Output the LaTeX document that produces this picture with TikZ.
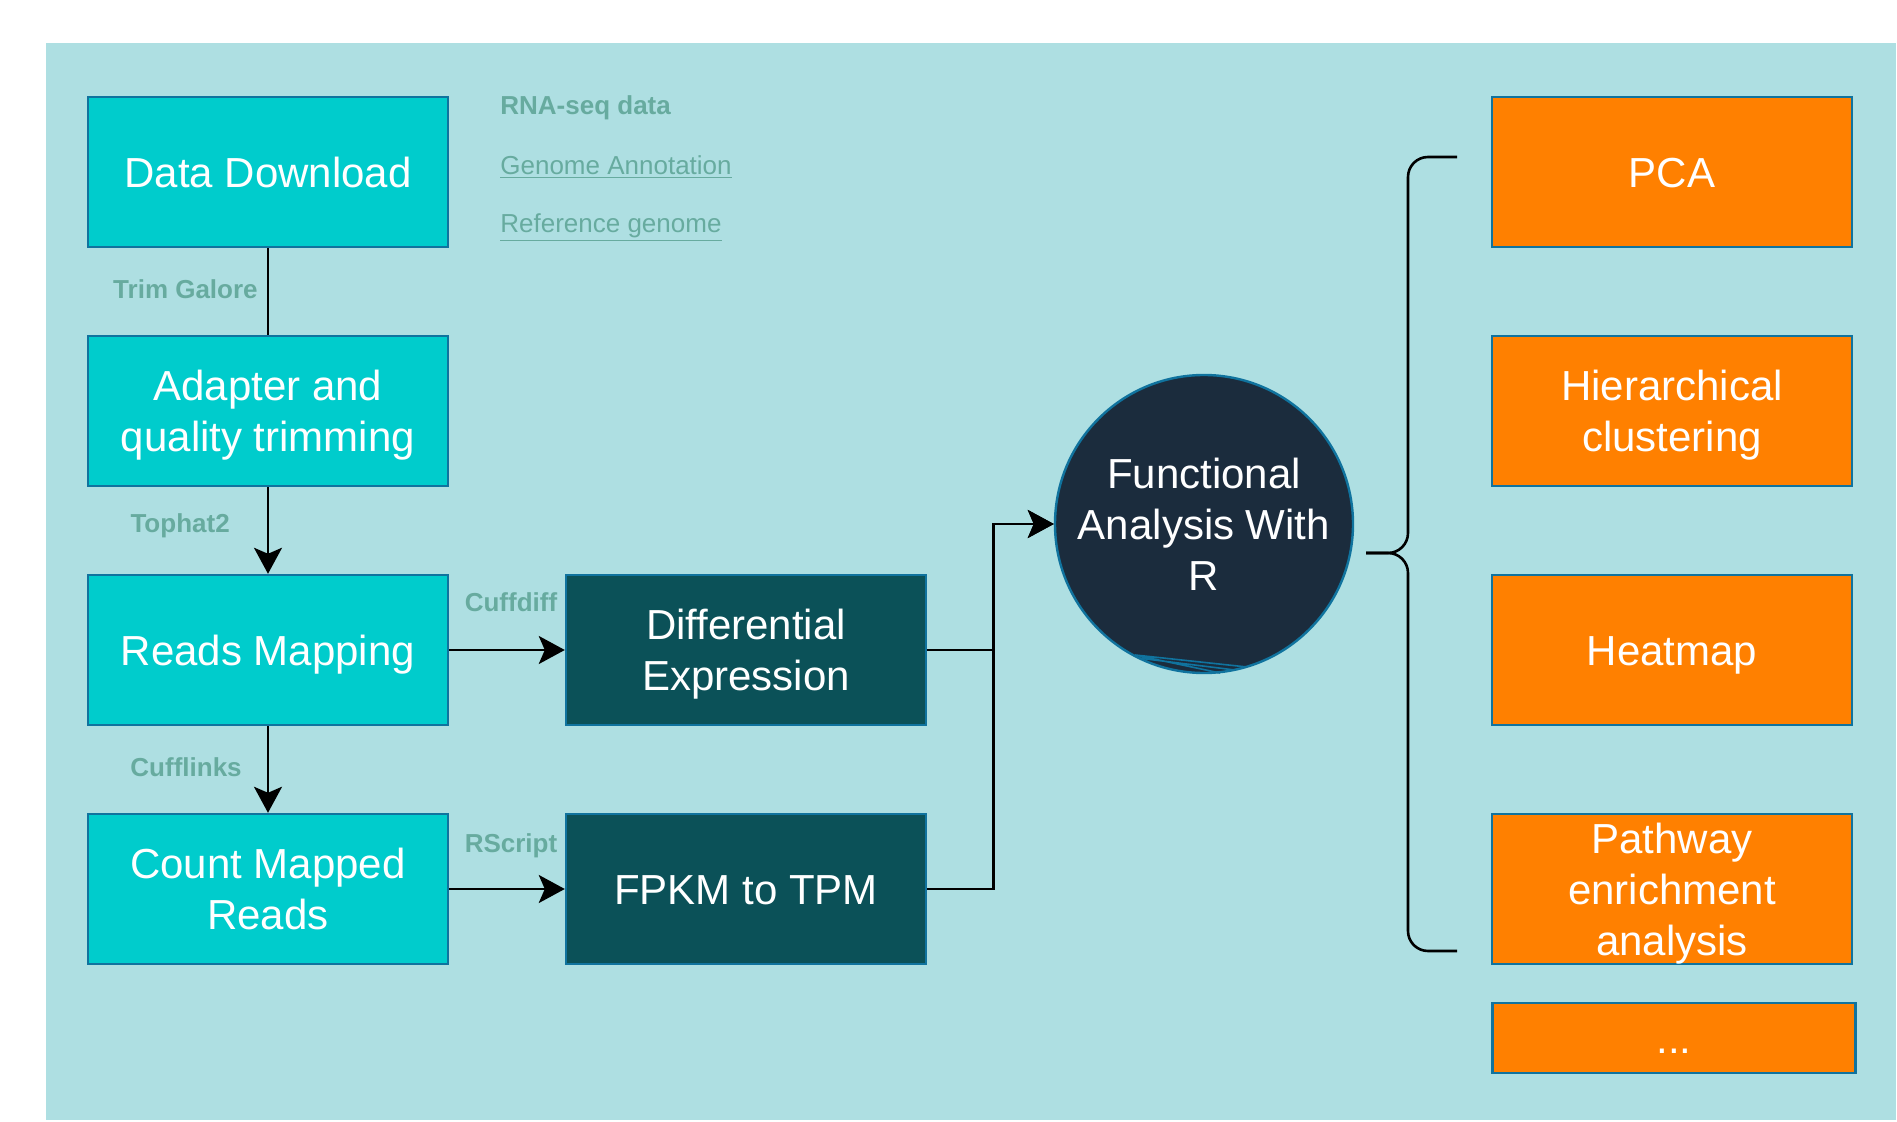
\documentclass[tikz,border=0pt]{standalone}
\usepackage{fontspec}
\setmainfont{Liberation Sans}
\usetikzlibrary{positioning,arrows.meta,calc}

\definecolor{bgteal}{HTML}{AEDFE2}
\definecolor{cyanbox}{HTML}{00CCCC}
\definecolor{darkteal}{HTML}{0B5158}
\definecolor{navyfill}{HTML}{1B2C3D}
\definecolor{orangebox}{HTML}{FF8000}
\definecolor{edgeblue}{HTML}{10739E}
\definecolor{toolgreen}{HTML}{67AB9F}

% line strut so text sits in the box like the original
\newcommand{\vstrut}{\rule[-0.21em]{0pt}{1.14em}}

\begin{document}
\begin{tikzpicture}[
		x=0.5pt, y=0.5pt,
		> = {Stealth[length=13pt,width=14pt,inset=3pt]},
		node distance = 43.3pt and 57.8pt,
		stepbox/.style={draw=edgeblue, line width=1.2pt, fill=cyanbox, text=white, minimum width=180pt, minimum height=75pt, align=center, inner sep=0pt, font=\fontsize{21}{25.5}\selectfont},
		darkbox/.style={stepbox, fill=darkteal},
		resbox/.style={stepbox, fill=orangebox},
		tool/.style={text=toolgreen, font=\fontsize{13}{16}\selectfont\bfseries, inner sep=0pt, text depth=0pt},
		link/.style={line width=1.3pt, black}
		]
		\useasboundingbox (0,0) rectangle (1897,-1122);
		\fill[bgteal] (46,-43) rectangle (1896,-1120);

		% pipeline on the left
		\node[stepbox] at (268,-172) (dl) {\vstrut Data Download};
		\node[stepbox, below=of dl] (trim) {\vstrut Adapter and\\\vstrut quality trimming};
		\node[stepbox, below=of trim] (map) {\vstrut Reads Mapping};
		\node[stepbox, below=of map] (count) {\vstrut Count Mapped\\\vstrut Reads};
		\node[darkbox, right=of map] (de) {\vstrut Differential\\\vstrut Expression};
		\node[darkbox, right=of count] (tpm) {\vstrut FPKM to TPM};

		% inputs
		\node[tool, anchor=west] at (500,-105) (rnaseq) {RNA-seq data};
		\node[tool, anchor=west, font=\fontsize{13}{16}\selectfont] at (500,-165) (annot) {\underline{Genome Annotation}};
		\node[tool, anchor=west, font=\fontsize{13}{16}\selectfont] at (500,-223) (refgen) {\underline{Reference genome}};

		% analysis
		\node[circle, draw=edgeblue, line width=1.2pt, fill=navyfill, text=white, minimum size=149pt, align=center, inner sep=0pt, font=\fontsize{21}{25.5}\selectfont] at (1204,-524) (fa) {Functional\\Analysis With\\R};
		\draw[edgeblue, line width=0.8pt] (1135,-655) -- (1247,-667) (1135,-655) -- (1220,-673) (1138,-658) -- (1235,-670);

		% results
		\node[resbox] at (1672,-172) (pca) {\vstrut PCA};
		\node[resbox, below=of pca] (hclust) {\vstrut Hierarchical\\\vstrut clustering};
		\node[resbox, below=of hclust] (heat) {\vstrut Heatmap};
		\node[resbox, below=of heat] (pathway) {\vstrut Pathway\\\vstrut enrichment\\\vstrut analysis};
		\node[resbox, below=18.3pt of pathway, minimum height=35pt, minimum width=181.5pt, xshift=1pt] (more) {\vstrut ...};

		% connectors
		\draw[link] (dl) -- (trim) node[tool, midway, left=4.5pt, yshift=1pt] (trimlbl) {Trim Galore};
		\path[->, link]
		(trim) edge node[tool, left=18.5pt, yshift=3.5pt] (tophat) {Tophat2} (map)
		(map) edge node[tool, left=12.5pt, yshift=1pt] (cufflinks) {Cufflinks} (count)
		(map) edge node[tool, above=18.8pt, xshift=2pt] (cuffdiff) {Cuffdiff} (de)
		(count) edge node[tool, above=17.8pt, xshift=2pt] (rscript) {RScript} (tpm);
		\draw[->, link] (de.east) -- ++(66,0) |- (fa.west);
		\draw[->, link] (tpm.east) -- ++(66,0) |- (fa.west);

		% brace
		\coordinate (btop) at (1457,-157);
		\coordinate (bbot) at (1457,-951);
		\coordinate (btip) at (1366,-553);
		\draw[link, rounded corners=10pt] (btop) -- (1408,-157) -- (1408,-553) -- (btip);
		\draw[link, rounded corners=10pt] (bbot) -- (1408,-951) -- (1408,-553) -- (btip);
	\end{tikzpicture}
\end{document}
